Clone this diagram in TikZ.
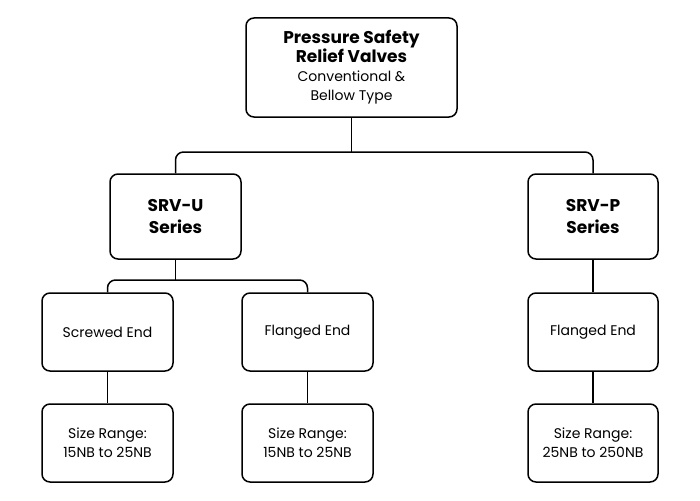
\documentclass[tikz,border=0pt]{standalone}
\usepackage{fontspec}
\setmainfont{Poppins}
\usetikzlibrary{positioning}
\tikzset{
	box/.style = {draw, line width=1.5pt, rounded corners=8pt, align=center,
		inner sep=0pt, font=\fontsize{14}{19}\selectfont},
	link/.style = {line width=1.5pt, rounded corners=8pt}
}
\newcommand{\headtext}[1]{{\fontsize{17}{21}\selectfont\bfseries #1}}
\begin{document}
\begin{tikzpicture}[x=1pt, y=-1pt]
        \useasboundingbox (0,0) rectangle (700,500);

        % Nodes
        \node (psrv) [box, minimum width=211pt, minimum height=99pt] at (351.5,67.5)
            {\headtext{Pressure Safety}\\\headtext{Relief Valves}\\Conventional \&\\Bellow Type};
        \node (srvu) [box, minimum width=131pt, minimum height=85pt, font=\fontsize{17}{22}\selectfont\bfseries] at (175.5,216.5) {SRV-U\\Series};
        \node (srvp) [box, minimum width=130pt, minimum height=85pt, font=\fontsize{17}{22}\selectfont\bfseries] at (593,216.5) {SRV-P\\Series};
        \node (screwed) [box, minimum width=131pt, minimum height=78pt] at (107.5,332) {Screwed End};
        \node (flangedu) [box, minimum width=131pt, minimum height=78pt] at (307.5,332) {Flanged End};
        \node (flangedp) [box, minimum width=130pt, minimum height=78pt] at (593,332) {Flanged End};
        \node (sizea) [box, minimum width=131pt, minimum height=78pt] at (107.5,443) {Size Range:\\15NB to 25NB};
        \node (sizeb) [box, minimum width=131pt, minimum height=78pt] at (307.5,443) {Size Range:\\15NB to 25NB};
        \node (sizec) [box, minimum width=130pt, minimum height=78pt] at (593,443) {Size Range:\\25NB to 250NB};

        % Connectors
        \coordinate (top) at (351.5,152);
        \coordinate (mid) at (175.5,280);
        \draw [link] (psrv.south) -- (top);
        \draw [link] (srvu.north) |- (top) -| (srvp.north);
        \draw [link] (srvu.south) -- (mid);
        \draw [link] (screwed.north) |- (mid) -| (flangedu.north);
        \draw [link] (srvp.south) -- (flangedp.north);
        \draw [link] (screwed.south) -- (sizea.north);
        \draw [link] (flangedu.south) -- (sizeb.north);
        \draw [link] (flangedp.south) -- (sizec.north);
\end{tikzpicture}
\end{document}
